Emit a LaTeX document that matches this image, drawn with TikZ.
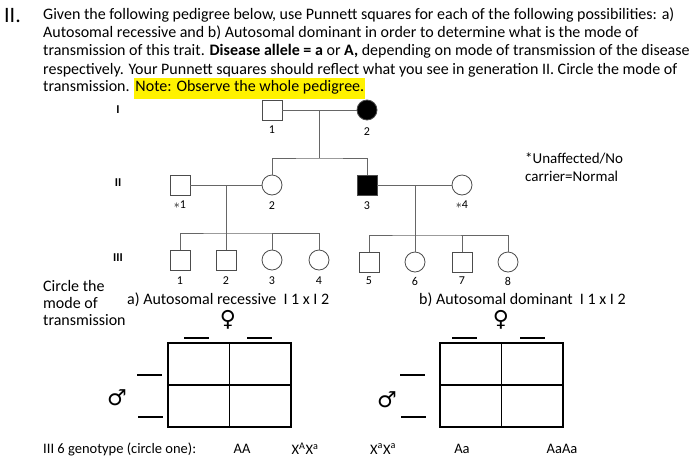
\documentclass[tikz,border=0pt]{standalone}
\usepackage{fontspec}
\setmainfont{Carlito}
\newfontfamily\symf{DejaVu Sans}
\begin{document}
\begin{tikzpicture}[x=1pt,y=-1pt,
 txt/.style={anchor=west,inner sep=0pt,font=\fontsize{16}{19}\selectfont},
 lbl/.style={inner sep=0pt,font=\fontsize{12}{14}\selectfont},
 gen/.style={inner sep=0pt,font=\fontsize{12}{14}\selectfont\bfseries},
 male/.style={draw=black!70,thick,minimum size=20pt,inner sep=0pt},
 fem/.style={draw=black!70,thick,circle,minimum size=20pt,inner sep=0pt},
 line/.style={draw=black!60,thick},
 pun/.style={line width=1.4pt},
 blank/.style={line width=2pt},
 sym/.style={inner sep=0pt,font=\symf\fontsize{22}{22}\selectfont}]
\useasboundingbox (0,0) rectangle (700,464);
\fill[white] (0,0) rectangle (700,464);
% heading
\node[anchor=west,inner sep=0pt,font=\fontsize{22}{22}\selectfont] (h0) at (4,16) {II.};
\node[txt] (h1) at (43,15) {Given the following pedigree below, use Punnett squares for each of the following possibilities: a)};
\node[txt] (h2) at (43,33) {Autosomal recessive and b) Autosomal dominant in order to determine what is the mode of};
\node[txt] (h3) at (43,51) {transmission of this trait. \textbf{Disease allele = a} or \textbf{A,} depending on mode of transmission of the disease};
\node[txt] (h4) at (43,70) {respectively. Your Punnett squares should reflect what you see in generation II. Circle the mode of};
\node[txt] (h5) at (43,88) {transmission. {\setlength{\fboxsep}{1pt}\colorbox{yellow}{\strut Note: Observe the whole pedigree.}}};
% generation labels
\node[gen] (g1) at (118,110) {I};
\node[gen] (g2) at (118,183) {II};
\node[gen] (g3) at (118,258) {III};
% generation I
\node[male] (i1) at (272,110) {};
\node[fem,fill=black] (i2) at (367,110) {};
\node[lbl] at (272,130) {1};
\node[lbl] at (367,132) {2};
\draw[line] (i1) -- (i2);
\coordinate (m1) at (319,110);
\coordinate (m1b) at (319,158);
\draw[line] (m1) -- (m1b);
% generation II
\node[male] (ii1) at (180,185) {};
\node[fem] (ii2) at (272,185) {};
\node[male,fill=black] (ii3) at (367,185) {};
\node[fem] (ii4) at (462,185) {};
\node[lbl] at (180,205) {$\ast$1};
\node[lbl] at (272,206) {2};
\node[lbl] at (367,206) {3};
\node[lbl] at (462,205) {$\ast$4};
\draw[line] (ii2.north) |- (m1b) -| (ii3.north);
\draw[line] (ii1) -- (ii2);
\draw[line] (ii3) -- (ii4);
\coordinate (m2) at (226,185);
\coordinate (m2b) at (226,233);
\coordinate (m3) at (415,185);
\coordinate (m3b) at (415,235);
\draw[line] (m2) -- (m2b);
\draw[line] (m3) -- (m3b);
% generation III
\node[male] (c1) at (180,260) {};
\node[male] (c2) at (226,260) {};
\node[fem] (c3) at (272,260) {};
\node[fem] (c4) at (319,260) {};
\node[male] (c5) at (369,262) {};
\node[fem] (c6) at (415,262) {};
\node[male] (c7) at (462,262) {};
\node[fem] (c8) at (508,262) {};
\foreach \n/\x in {1/180,2/226,3/272,4/319,5/369,6/415,7/462,8/508}
  \node[lbl] at (\x,281) {\n};
\draw[line] (c1.north) |- (m2b) -| (c4.north);
\draw[line] (c2.north) -- (c2.north|-m2b);
\draw[line] (c3.north) -- (c3.north|-m2b);
\draw[line] (c5.north) |- (m3b) -| (c8.north);
\draw[line] (c6.north) -- (c6.north|-m3b);
\draw[line] (c7.north) -- (c7.north|-m3b);
% note
\node[txt,font=\fontsize{15}{18}\selectfont] (n1) at (525,158) {*Unaffected/No};
\node[txt,font=\fontsize{15}{18}\selectfont] (n2) at (525,176) {carrier=Normal};
% left labels
\node[txt] (l1) at (43,286) {Circle the};
\node[txt] (l2) at (43,303) {mode of};
\node[txt] (l3) at (43,320) {transmission};
\node[txt] (a) at (127,300) {a) Autosomal recessive \ I 1 x I 2};
\node[txt] (b) at (419,300) {b) Autosomal dominant \ I 1 x I 2};
% Punnett left
\draw[pun] (168,343) rectangle (291,427);
\draw[pun] (229.5,343) -- (229.5,427);
\draw[pun] (168,385) -- (291,385);
\draw[blank] (184,338) -- (209,338);
\draw[blank] (247,338) -- (272,338);
\draw[blank] (137,375) -- (162,375);
\draw[blank] (138,417) -- (163,417);
\node[sym] (f1) at (228,320) {♀};
\node[sym] (ma1) at (117,398) {♂};
% Punnett right
\draw[pun] (440,343) rectangle (563,427);
\draw[pun] (501.5,343) -- (501.5,427);
\draw[pun] (440,385) -- (563,385);
\draw[blank] (452,338) -- (477,338);
\draw[blank] (520,338) -- (545,338);
\draw[blank] (400,375) -- (425,375);
\draw[blank] (401,417) -- (426,417);
\node[sym] (f2) at (501,320) {♀};
\node[sym] (ma2) at (387,400) {♂};
% bottom
\node[txt,font=\fontsize{14.5}{17}\selectfont] (t1) at (43,449) {III 6 genotype (circle one):};
\node[inner sep=0pt,font=\fontsize{14.5}{17}\selectfont] (t2) at (242,449) {AA};
\node[inner sep=0pt,font=\fontsize{14.5}{17}\selectfont] (t3) at (305,449) {X\textsuperscript{A}X\textsuperscript{a}};
\node[inner sep=0pt,font=\fontsize{14.5}{17}\selectfont] (t4) at (383,449) {X\textsuperscript{a}X\textsuperscript{a}};
\node[inner sep=0pt,font=\fontsize{14.5}{17}\selectfont] (t5) at (462,449) {Aa};
\node[inner sep=0pt,font=\fontsize{14.5}{17}\selectfont] (t6) at (562,449) {AaAa};
\end{tikzpicture}
\end{document}
